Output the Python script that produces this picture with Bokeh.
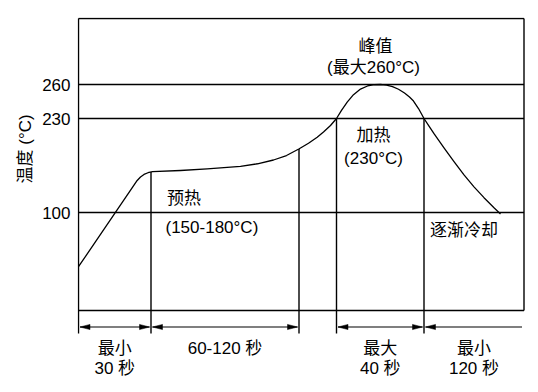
import numpy as np
from bokeh.plotting import figure
from bokeh.models import Range1d, FixedTicker, Title
from bokeh.core.properties import value
from bokeh.embed import file_html
from bokeh.resources import INLINE

# ---------------- data ----------------
# schematic time axis (phase boundaries, arbitrary schematic units)
phase_edges = [0, 72.5, 220.5, 258, 345.5, 445.5]
# temperature reference levels (°C) shown on the y axis
ref_temps = [100, 230, 260]
# reflow profile: schematic time, temperature (°C)
curve_x = [0, 58.7, 62, 65.5, 69.5, 74, 102, 128.7, 162, 179, 195, 208, 220.3, 230,
           238.7, 245, 252, 258, 263, 268.7, 275, 282, 289, 296, 302, 308, 314, 320,
           326, 331, 335, 340, 345.5, 350.5, 355.5, 365.5, 375.5, 385.5, 395.5, 405.5,
           415.5, 422]
curve_t = [25, 144.3, 149.1, 152.6, 155.0, 156.4, 158.1, 160.4, 163.9, 167.4, 172.6,
           178.8, 187.8, 195.7, 204.1, 211.3, 220.3, 230, 237.1, 244.4, 251.0, 256.0,
           258.7, 259.8, 260, 259.5, 258.1, 255.8, 252.5, 249.0, 245.4, 238.8, 230,
           219.5, 209, 189.5, 170.5, 152, 135.5, 120.5, 106.5, 98]
# duration labels under the phases (phase index -> two lines)
dur_phase = [0, 1, 3, 4]
dur_line1 = ["最小", "60-120 秒", "最大", "最小"]
dur_line2 = ["30 秒", "", "40 秒", "120 秒"]

# schematic (non-linear) temperature scale of the drawing
SCALE_T = [100, 230, 260]
SCALE_Y = [98, 192, 226]


def temp_to_y(t):
    t = np.atleast_1d(np.asarray(t, dtype=float))
    y = np.interp(t, SCALE_T, SCALE_Y)
    lo = t < SCALE_T[0]
    hi = t > SCALE_T[-1]
    s_lo = (SCALE_Y[1] - SCALE_Y[0]) / (SCALE_T[1] - SCALE_T[0])
    s_hi = (SCALE_Y[-1] - SCALE_Y[-2]) / (SCALE_T[-1] - SCALE_T[-2])
    y[lo] = SCALE_Y[0] + (t[lo] - SCALE_T[0]) * s_lo
    y[hi] = SCALE_Y[-1] + (t[hi] - SCALE_T[-1]) * s_hi
    return y


FONT = "Liberation Sans, Noto Sans CJK SC"
FS = "17px"
LW = 1.4

TOP = 292
ARROW_Y = -16.5
DROP_Y = -23

p = figure(width=530, height=384, x_range=Range1d(-1, 452), y_range=Range1d(-74, 293),
           output_backend="svg", toolbar_location=None, x_axis_location=None,
           min_border_left=77, min_border_right=0, min_border_top=17, min_border_bottom=0,
           title=None)
p.outline_line_color = None
p.xgrid.visible = False
p.ygrid.visible = False
p.background_fill_color = "white"
p.border_fill_color = "white"

# y axis with schematic tick positions
tick_pos = [int(round(v)) for v in temp_to_y(ref_temps)]
p.yaxis.ticker = FixedTicker(ticks=tick_pos)
p.yaxis.major_label_overrides = {tp: str(t) for tp, t in zip(tick_pos, ref_temps)}
p.yaxis.axis_line_color = None
p.yaxis.major_tick_line_color = None
p.yaxis.minor_tick_line_color = None
p.yaxis.major_tick_out = 0
p.yaxis.major_tick_in = 0
p.yaxis.major_label_standoff = 7
p.yaxis.major_label_text_font = FONT
p.yaxis.major_label_text_font_size = FS
p.yaxis.major_label_text_color = "black"

x0, x1 = phase_edges[0], phase_edges[-1]
ref_y = temp_to_y(ref_temps)

# frame and reference level lines
hx0 = [x0] * (len(ref_y) + 2)
hx1 = [x1] * (len(ref_y) + 2)
hy = [0, TOP] + list(ref_y)
p.segment(x0=hx0, y0=hy, x1=hx1, y1=hy, line_color="black", line_width=LW)
p.segment(x0=[x1, x0], y0=[0, DROP_Y], x1=[x1, x0], y1=[TOP, TOP],
          line_color="black", line_width=LW)

# vertical phase boundaries dropping from the curve
curve_y = temp_to_y(curve_t)
inner = phase_edges[1:-1]
tops = np.interp(inner, curve_x, curve_y)
p.segment(x0=inner, y0=tops, x1=inner, y1=[DROP_Y] * len(inner),
          line_color="black", line_width=LW)

# profile curve
p.line(curve_x, curve_y, line_color="black", line_width=1.3, line_join="round")

# duration arrows
spans = [(phase_edges[0], phase_edges[1], True, True),
         (phase_edges[1], phase_edges[2], True, True),
         (phase_edges[3], phase_edges[4], True, True),
         (phase_edges[4], phase_edges[5] - 2, True, False)]
GAP, HL, HW = 1.5, 10, 2.6
ax0, ax1, hxs, hys = [], [], [], []
for a, b, left, right in spans:
    ta = a + GAP
    tb = b - GAP if right else b
    ax0.append(ta)
    ax1.append(tb)
    if left:
        hxs.append([ta, ta + HL, ta + HL])
        hys.append([ARROW_Y, ARROW_Y + HW, ARROW_Y - HW])
    if right:
        hxs.append([tb, tb - HL, tb - HL])
        hys.append([ARROW_Y, ARROW_Y + HW, ARROW_Y - HW])
p.segment(x0=ax0, y0=[ARROW_Y] * len(ax0), x1=ax1, y1=[ARROW_Y] * len(ax0),
          line_color="black", line_width=1.2)
p.patches(hxs, hys, fill_color="black", line_color="black", line_width=0.5)

# duration labels
mids = [(phase_edges[i] + phase_edges[i + 1]) / 2 for i in dur_phase]
p.text(x=mids, y=[-38] * len(mids), text=dur_line1, text_font=value(FONT),
       text_font_size=FS, text_align="center", text_baseline="middle", text_color="black")
p.text(x=mids, y=[-58] * len(mids), text=dur_line2, text_font=value(FONT),
       text_font_size=FS, text_align="center", text_baseline="middle", text_color="black")

# stage annotations
p.text(x=[297, 295, 295, 295], y=[264.5, 243.5, 175, 152],
       text=["峰值", "(最大260°C)", "加热", "(230°C)"], text_font=value(FONT),
       text_font_size=FS, text_align="center", text_baseline="middle", text_color="black")
p.text(x=[88.5, 87, 351.5], y=[112, 83.5, 80],
       text=["预热", "(150-180°C)", "逐渐冷却"], text_font=value(FONT),
       text_font_size=FS, text_align="left", text_baseline="middle", text_color="black")

# y-axis title
p.add_layout(Title(text="温度 (°C)", align="left", offset=201, standoff=6,
                   vertical_align="top", text_font=FONT, text_font_size=FS,
                   text_font_style="normal", text_color="black"), "left")

open("out.html", "w").write(file_html(p, INLINE))
